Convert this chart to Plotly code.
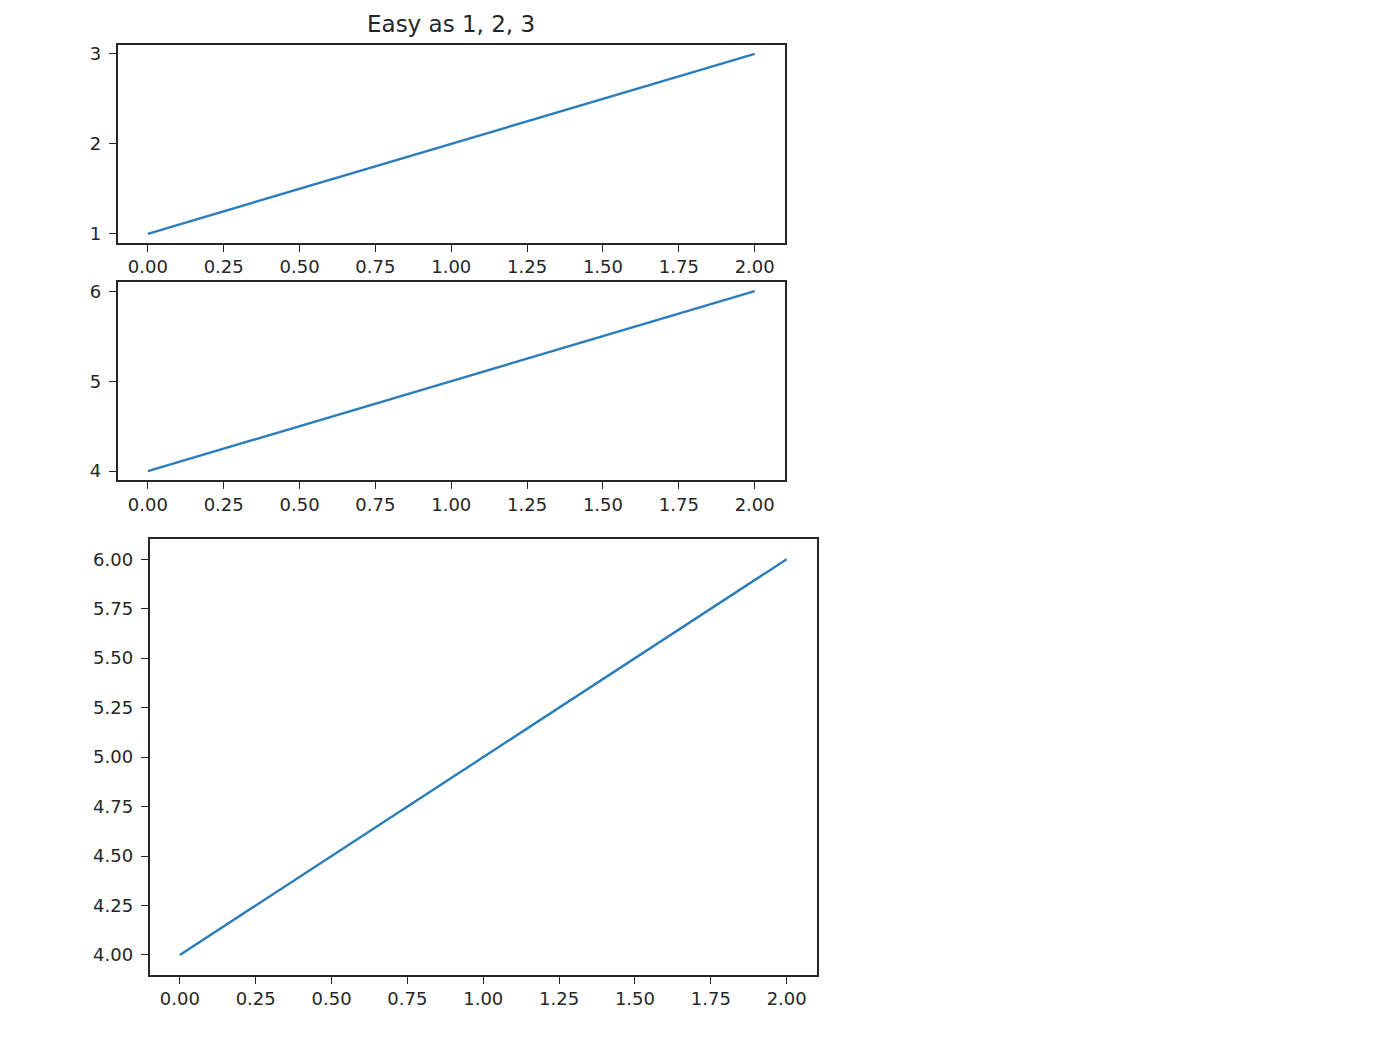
import plotly.graph_objects as go

x = [0, 1, 2]
y_top = [1, 2, 3]
y_mid = [4, 5, 6]
y_bot = [4, 5, 6]

W, H = 1400, 1048
OFF = 8  # browser body margin

def dom_x(a, b):
    return [(a - OFF) / W, (b - OFF) / W]

def dom_y(top, bottom):
    return [1 - (bottom - OFF) / H, 1 - (top - OFF) / H]

fig = go.Figure()
line = dict(color="#2a7dbd", width=2.4)
fig.add_trace(go.Scatter(x=x, y=y_top, mode="lines", line=line, xaxis="x", yaxis="y"))
fig.add_trace(go.Scatter(x=x, y=y_mid, mode="lines", line=line, xaxis="x2", yaxis="y2"))
fig.add_trace(go.Scatter(x=x, y=y_bot, mode="lines", line=line, xaxis="x3", yaxis="y3"))

font = dict(family="DejaVu Sans", size=18, color="#262626")
common = dict(showline=True, mirror=True, linecolor="#262626", linewidth=1.6,
              ticks="outside", ticklen=7, tickwidth=1.4, tickcolor="#262626",
              showgrid=False, zeroline=False, tickfont=font)
ycommon = dict(common, ticklabelstandoff=4)
xcommon = dict(common, ticklabelstandoff=0)

xticks = [0, 0.25, 0.5, 0.75, 1.0, 1.25, 1.5, 1.75, 2.0]

fig.update_layout(
    width=W, height=H, margin=dict(l=0, r=0, t=0, b=0),
    plot_bgcolor="white", paper_bgcolor="white", showlegend=False,
    xaxis=dict(domain=dom_x(117.5, 785), range=[-0.1, 2.1], tickvals=xticks,
               tickformat=".2f", anchor="y", **xcommon),
    yaxis=dict(domain=dom_y(43, 241.5), range=[0.9, 3.1], tickvals=[1, 2, 3],
               anchor="x", **ycommon),
    xaxis2=dict(domain=dom_x(117.5, 785), range=[-0.1, 2.1], tickvals=xticks,
                tickformat=".2f", anchor="y2", **xcommon),
    yaxis2=dict(domain=dom_y(281, 479.5), range=[3.9, 6.1], tickvals=[4, 5, 6],
                anchor="x2", **ycommon),
    xaxis3=dict(domain=dom_x(149.5, 817), range=[-0.1, 2.1], tickvals=xticks,
                tickformat=".2f", anchor="y3", **xcommon),
    yaxis3=dict(domain=dom_y(539, 975.5), range=[3.9, 6.1],
                tickvals=[4.0, 4.25, 4.5, 4.75, 5.0, 5.25, 5.5, 5.75, 6.0],
                tickformat=".2f", anchor="x3", **ycommon),
    annotations=[dict(text="Easy as 1, 2, 3", x=((117 + 785) / 2 - OFF) / W,
                      y=1 - (22 - OFF) / H,
                      xref="paper", yref="paper", showarrow=False,
                      font=dict(family="DejaVu Sans", size=23, color="#262626"),
                      xanchor="center", yanchor="middle")],
)

fig.write_html("out.html")
